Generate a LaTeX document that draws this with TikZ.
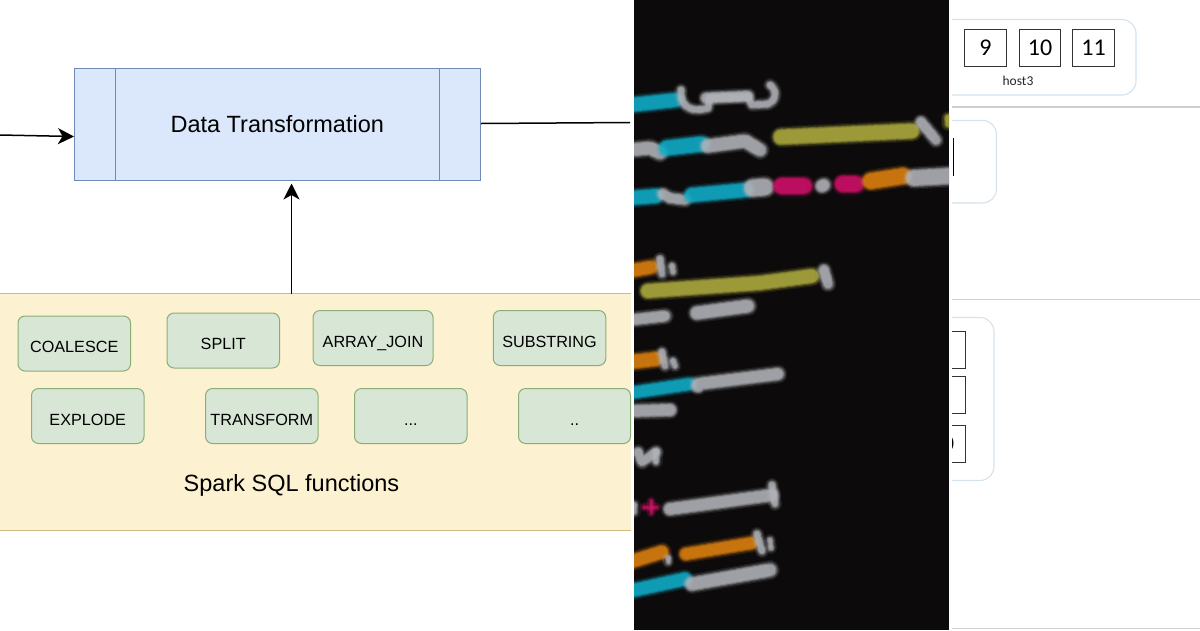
\documentclass[tikz,border=0pt]{standalone}
\usepackage{fontspec}
\setmainfont{Liberation Sans}
\newfontfamily\hostfont{Carlito}
\usetikzlibrary{arrows.meta,calc}
\definecolor{blueF}{HTML}{DBE7FA}
\definecolor{blueD}{HTML}{7189B5}
\definecolor{yelF}{HTML}{FCF1D0}
\definecolor{yelD}{HTML}{D0BC80}
\definecolor{grnF}{HTML}{D8E6D6}
\definecolor{grnD}{HTML}{8BAE78}
\definecolor{panel}{HTML}{0C0A0A}
\definecolor{cCy}{HTML}{12AFCB}
\definecolor{cGy}{HTML}{B2B4BA}
\definecolor{cYe}{HTML}{B0AD40}
\definecolor{cPk}{HTML}{D4106A}
\definecolor{cOr}{HTML}{E08210}
\definecolor{hostB}{HTML}{D5E3EE}
\definecolor{ruleG}{HTML}{CFCFCF}
\tikzset{
  fn/.style={draw=grnD,fill=grnF,line width=1pt,rounded corners=7pt,minimum width=112.5pt,minimum height=55pt,inner sep=0pt,text=black,text height=18pt,text depth=0pt,font=\fontsize{16.2}{18}\selectfont},
  mainbox/.style={draw=blueD,fill=blueF,line width=1pt,minimum width=405.5pt,minimum height=112pt,inner sep=0pt,font=\fontsize{23.5}{26}\selectfont},
  sparkbg/.style={fill=yelF,minimum width=631pt,minimum height=236pt,inner sep=0pt},
  conn/.style={draw=black,line width=1.5pt},
  arrowed/.style={conn,-{Stealth[length=16pt,width=16pt,inset=4.5pt]}},
  numbox/.style={draw=black!80,line width=1pt,minimum height=37pt,inner sep=0pt,font=\hostfont\fontsize{24}{26}\selectfont},
  hostcard/.style={draw=hostB,line width=1.1pt,rounded corners=14pt,fill=white},
  hrule/.style={draw=ruleG,line width=1.3pt},
  blurcode/.style={line cap=round,line join=round},
}
% blurred stroke of code: colour, width, path
\newcommand{\codeblur}[3]{%
  \draw[#1,blurcode,line width=#2pt+8pt,opacity=.10] #3;
  \draw[#1,blurcode,line width=#2pt+5.5pt,opacity=.18] #3;
  \draw[#1,blurcode,line width=#2pt+3pt,opacity=.28] #3;
  \draw[#1,blurcode,line width=#2pt+1pt,opacity=.40] #3;
  \draw[#1,blurcode,line width=#2pt-1pt,opacity=.55] #3;
  \draw[#1,blurcode,line width=#2pt+3pt,dash pattern=on 0pt off 8pt,opacity=.22] #3;
}
\begin{document}
\begin{tikzpicture}[x=1pt,y=-1pt]
\useasboundingbox (0,0) rectangle (1200,630);
\fill[white] (0,0) rectangle (1200,630);

% right: cut-off slide
\begin{scope}
\clip (952,0) rectangle (1200,630);
\draw[hostcard] (800,19.5) rectangle (1136,95);
\draw[hostcard] (800,120.5) rectangle (996.5,203);
\draw[hostcard] (800,317.5) rectangle (994,480.5);
\draw[black,line width=1.2pt] (953.5,138) -- (953.5,175.5);
\node[numbox,minimum width=42pt] (nA) at (944.5,349.5) {};
\node[numbox,minimum width=42pt] (nB) at (944.5,395) {};
\node[numbox,minimum width=42pt] (nC) at (944.5,443.5) {};
\node[font=\hostfont\bfseries\fontsize{24}{26}\selectfont] (nCt) at (948,443.5) {0};
\end{scope}
\node[numbox,minimum width=41.5pt] (n9) at (985.5,47.5) {9};
\node[numbox,minimum width=41.5pt] (n10) at (1040,47.5) {10};
\node[numbox,minimum width=41.5pt] (n11) at (1093.5,47.5) {11};
\node[font=\hostfont\fontsize{13.5}{15}\selectfont,text=black!85] (h3) at (1018,80.5) {host3};
\draw[hrule] (952,107) -- (1200,107);
\draw[hrule] (952,299.5) -- (1200,299.5);
\draw[hrule] (952,628.5) -- (1200,628.5);

% middle: blurred photograph of source code
\fill[panel] (634,0) rectangle (949,630);
\begin{scope}
\clip (634,0) rectangle (949,630);
\codeblur{cCy}{13}{(630,105) -- (676,100)}
\codeblur{cGy}{6}{(681,90) .. controls (680,110) and (695,112) .. (708,108) -- (710,98) -- (748,97) -- (752,105) -- (768,104) .. controls (777,100) and (777,90) .. (770,85)}
\codeblur{cGy}{9}{(706,98) -- (748,96)}
\codeblur{cGy}{12}{(630,150) -- (650,148) -- (660,153)}
\codeblur{cCy}{14}{(667,148) -- (702,144)}
\codeblur{cGy}{12}{(708,146) -- (745,141) -- (760,150)}
\codeblur{cYe}{14}{(781,137) -- (912,131)}
\codeblur{cGy}{9}{(921,122) -- (936,140)}
\codeblur{cYe}{6}{(948,118) -- (948,124)}
\codeblur{cCy}{13}{(630,198) -- (656,196)}
\codeblur{cGy}{9}{(663,194) -- (670,198) -- (685,200)}
\codeblur{cCy}{13}{(692,195) -- (746,190)}
\codeblur{cGy}{16}{(753,188) -- (765,187)}
\codeblur{cPk}{15}{(782,186) -- (804,186)}
\codeblur{cGy}{11}{(822,186) -- (824,185)}
\codeblur{cPk}{15}{(843,184) -- (856,184)}
\codeblur{cOr}{15}{(871,181) -- (903,176)}
\codeblur{cGy}{15}{(914,178) -- (950,176)}
\codeblur{cOr}{12}{(630,271) -- (652,267)}
\codeblur{cGy}{6}{(660,259) -- (662,274)}
\codeblur{cGy}{5}{(672,266) -- (673,272)}
\codeblur{cYe}{13}{(648,291) -- (760,283) -- (812,276)}
\codeblur{cGy}{9}{(824,270) -- (828,284)}
\codeblur{cGy}{10}{(630,320) -- (665,316)}
\codeblur{cGy}{12}{(697,313) -- (748,306)}
\codeblur{cOr}{13}{(630,362) -- (656,359)}
\codeblur{cGy}{6}{(662,352) -- (665,366)}
\codeblur{cGy}{5}{(673,361) -- (675,366)}
\codeblur{cCy}{11}{(630,393) -- (690,384)}
\codeblur{cGy}{11}{(698,386) -- (698,384) -- (778,374)}
\codeblur{cGy}{11}{(630,411) -- (670,410)}
\codeblur{cGy}{8}{(638,452) -- (642,462) -- (656,452)}
\codeblur{cGy}{5}{(656,452) -- (656,462)}
\codeblur{cGy}{5}{(634,505) -- (634,512)}
\codeblur{cPk}{2}{(644,507) -- (657,507)}
\codeblur{cPk}{2}{(651,501) -- (651,513)}
\codeblur{cGy}{11}{(670,509) -- (700,505) -- (772,495)}
\codeblur{cGy}{6}{(772,485) -- (775,504)}
\codeblur{cOr}{12}{(630,562) -- (662,552)}
\codeblur{cOr}{11}{(686,554) -- (752,543)}
\codeblur{cGy}{4}{(668,558) -- (668,562)}
\codeblur{cGy}{6}{(757,534) -- (762,551)}
\codeblur{cGy}{4}{(770,540) -- (771,548)}
\codeblur{cCy}{12}{(630,591) -- (685,579)}
\codeblur{cGy}{12}{(692,584) -- (770,570)}
\end{scope}

% left: flow diagram
\node[sparkbg] (spark) at (315.5,412) {};
\draw[yelD,line width=1.1pt] (spark.north west) -- (spark.north east);
\draw[yelD,line width=1.1pt] (spark.south west) -- (spark.south east);
\node[mainbox] (main) at (277.25,124.5) {Data Transformation};
\draw[blueD,line width=1pt] ($(main.north west)+(41,0)$) -- ($(main.south west)+(41,0)$);
\draw[blueD,line width=1pt] ($(main.north east)+(-41.5,0)$) -- ($(main.south east)+(-41.5,0)$);

\node[fn] (coalesce) at (74.25,343.5) {COALESCE};
\node[fn] (split) at (223.25,340.5) {SPLIT};
\node[fn,minimum width=120pt] (arrayjoin) at (373,338) {ARRAY\_JOIN};
\node[fn] (substring) at (549.5,338) {SUBSTRING};
\node[fn] (explode) at (87.75,416) {EXPLODE};
\node[fn] (transform) at (261.75,416) {TRANSFORM};
\node[fn] (dots3) at (410.75,416) {...};
\node[fn,minimum width=112pt] (dots2) at (574.5,416) {..};
\node[font=\fontsize{23.5}{26}\selectfont] (sparklbl) at (291.5,485) {Spark SQL functions};

\coordinate (inL) at (0,135);
\coordinate (outR) at (630,122.5);
\coordinate (upS) at (291.5,294);
\coordinate (upT) at (291.5,183.5);
\coordinate (inT) at (74,136.5);
\coordinate (outS) at (481,123.5);
\draw[arrowed] (inL) -- (inT);
\draw[arrowed] (upS) -- (upT);
\draw[conn] (outS) -- (outR);
\end{tikzpicture}
\end{document}
